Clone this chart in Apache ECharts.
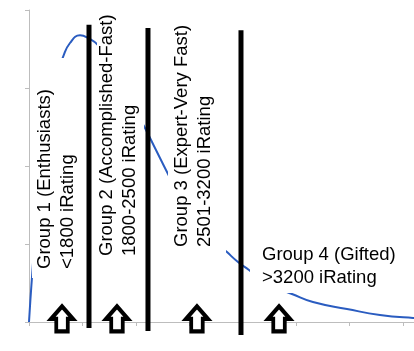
<!DOCTYPE html>
<html>
<head>
<meta charset="utf-8">
<script src="https://cdn.jsdelivr.net/npm/echarts@6/dist/echarts.min.js"></script>
<style>
html,body{margin:0;padding:0;background:#fff;}
#chart{width:414px;height:351px;}
</style>
</head>
<body>
<div id="chart"></div>
<script>
// Distribution curve (x in axis units, y in axis units)
var curveX = [0, 0.056, 0.15, 0.25, 0.35, 0.45, 0.55, 0.636, 0.767, 0.955, 1.12, 1.291, 1.5, 1.75, 2.0, 2.171, 2.377, 2.583, 2.8, 3.0, 3.25, 3.5, 3.706, 3.912, 4.118, 4.35, 4.6, 4.922, 5.315, 5.952, 6.569, 7.187, 8.0];
var curveY = [0, 0.577, 1.4, 2.05, 2.55, 2.95, 3.22, 3.397, 3.577, 3.675, 3.635, 3.551, 3.33, 3.02, 2.7, 2.487, 2.205, 1.923, 1.64, 1.42, 1.2, 1.03, 0.897, 0.769, 0.667, 0.54, 0.45, 0.359, 0.256, 0.167, 0.090, 0.051, 0.02];

// Group dividers (x position, top y, bottom y)
var dividerX = [1.123, 2.227, 3.968];
var dividerTop = [3.81, 3.77, 3.74];
var dividerBottom = [-0.077, -0.115, -0.167];

// Arrow markers
var arrowX = [0.618, 1.647, 3.144, 4.68];
var arrowY = [0.04, 0.04, 0.04, 0.04];

// Group labels
var groupLine1 = ['Group 1 (Enthusiasts)', 'Group 2 (Accomplished-Fast)', 'Group 3 (Expert-Very Fast)', 'Group 4 (Gifted)'];
var groupLine2 = ['<1800 iRating', '1800-2500 iRating', '2501-3200 iRating', '>3200 iRating'];

var chart = echarts.init(document.getElementById('chart'), null, {renderer: 'canvas'});

var curveData = curveX.map(function (x, i) { return [x, curveY[i]]; });
var arrowData = arrowX.map(function (x, i) { return [x, arrowY[i]]; });

var FONT = '18.5px "Liberation Sans", Arial, sans-serif';
var axisGray = '#bdbdbd';

// label boxes (pixel layout) and text anchors
var boxes = [
  {x: 32, y: 58, w: 50, h: 220},
  {x: 97, y: 6, w: 47, h: 256},
  {x: 168, y: 18, w: 58, h: 240},
  {x: 250, y: 240, w: 164, h: 53}
];
var anchors = [
  {x: 33.5, y: 269, rot: Math.PI / 2},
  {x: 95.5, y: 256, rot: Math.PI / 2},
  {x: 170.5, y: 247, rot: Math.PI / 2},
  {x: 262, y: 243.5, rot: 0}
];

var graphics = [];
boxes.forEach(function (b, i) {
  graphics.push({
    type: 'rect', z: 50,
    shape: {x: b.x, y: b.y, width: b.w, height: b.h},
    style: {fill: '#fff'}
  });
  graphics.push({
    type: 'text', z: 51,
    x: anchors[i].x, y: anchors[i].y, rotation: anchors[i].rot,
    style: {
      text: groupLine1[i] + '\n' + groupLine2[i],
      font: FONT,
      fill: '#000',
      lineHeight: 23,
      align: 'left',
      verticalAlign: 'top'
    }
  });
});

var arrowPath = 'path://M10.5,0 L21,12 L16,12 L16,24 L5,24 L5,12 L0,12 Z';

var series = [
  {
    type: 'line',
    data: curveData,
    smooth: 0.5,
    showSymbol: false,
    symbol: 'none',
    clip: false,
    lineStyle: {color: '#2a5cc0', width: 2},
    z: 2,
    emphasis: {disabled: true}
  }
];
dividerX.forEach(function (x, i) {
  series.push({
    type: 'line',
    data: [[x, dividerTop[i]], [x, dividerBottom[i]]],
    showSymbol: false,
    symbol: 'none',
    clip: false,
    lineStyle: {color: '#000', width: 5, cap: 'butt'},
    z: 3,
    emphasis: {disabled: true}
  });
});
series.push({
  type: 'scatter',
  data: arrowData,
  symbol: arrowPath,
  symbolSize: [22, 25],
  clip: false,
  z: 5,
  itemStyle: {color: '#fff', borderColor: '#000', borderWidth: 4, borderJoin: 'miter', opacity: 1},
  emphasis: {disabled: true}
});

chart.setOption({
  animation: false,
  backgroundColor: '#fff',
  grid: {left: 29, top: 10, width: 427.4, bottom: 29, containLabel: false, outerBoundsMode: 'none'},
  xAxis: {
    type: 'value', min: 0, max: 8, interval: 1,
    axisLine: {show: true, lineStyle: {color: axisGray, width: 1}},
    axisTick: {show: true, length: 4, lineStyle: {color: axisGray}},
    axisLabel: {show: false},
    splitLine: {show: false}
  },
  yAxis: {
    type: 'value', min: 0, max: 4, interval: 1,
    axisLine: {show: true, lineStyle: {color: axisGray, width: 1}},
    axisTick: {show: true, length: 4, lineStyle: {color: axisGray}},
    axisLabel: {show: false},
    splitLine: {show: false}
  },
  graphic: graphics,
  series: series
});
</script>
</body>
</html>
